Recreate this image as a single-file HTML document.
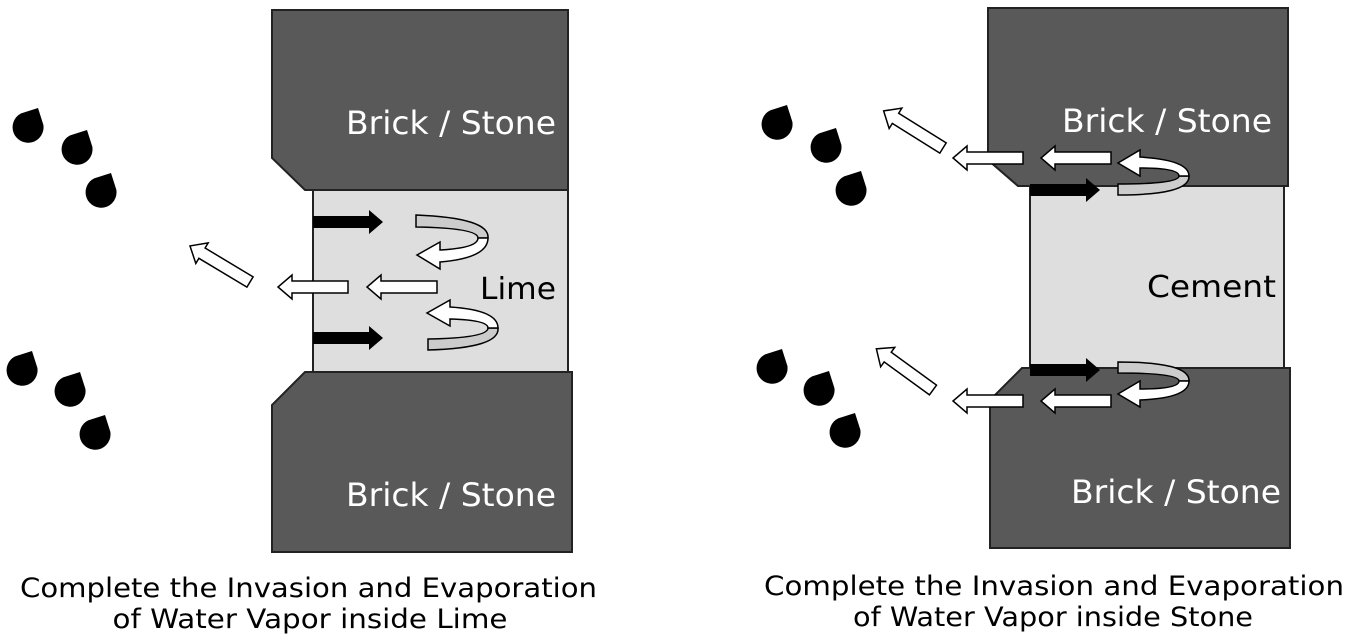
<!DOCTYPE html>
<html><head><meta charset="utf-8"><style>
html,body{margin:0;padding:0;background:#fff}
svg{display:block}
text{font-family:"DejaVu Sans","Liberation Sans",sans-serif}
</style></head><body>
<svg width="1350" height="642" viewBox="0 0 1350 642" xmlns="http://www.w3.org/2000/svg">
<defs>
<path id="drop" d="M0,0 L12,13 A15.5,15.5 0 1 1 -13,12 Z" fill="#000"/>
<path id="ar" d="M0,-6H56V-12L70,0L56,12V6H0Z"/>
</defs>
<!-- LEFT -->
<polygon points="272,10 568,10 568,190 305,190 272,158" fill="#595959" stroke="#222" stroke-width="2"/>
<rect x="313" y="190" width="255" height="182" fill="#dedede" stroke="#222" stroke-width="2"/>
<polygon points="305,372 572,372 572,552 272,552 272,405" fill="#595959" stroke="#222" stroke-width="2"/>
<text x="346" y="134" font-size="32" fill="#fff" textLength="210" lengthAdjust="spacingAndGlyphs">Brick / Stone</text>
<text x="346" y="506" font-size="32" fill="#fff" textLength="210" lengthAdjust="spacingAndGlyphs">Brick / Stone</text>
<text x="480" y="299" font-size="30" fill="#000" textLength="76" lengthAdjust="spacingAndGlyphs">Lime</text>
<use href="#ar" transform="translate(313,222)" fill="#000"/>
<use href="#ar" transform="translate(313,338)" fill="#000"/>
<use href="#ar" transform="translate(348,287) rotate(180)" fill="#fff" stroke="#000" stroke-width="1.5"/>
<use href="#ar" transform="translate(437,287) rotate(180)" fill="#fff" stroke="#000" stroke-width="1.5"/>
<use href="#ar" transform="translate(250,282) rotate(211)" fill="#fff" stroke="#000" stroke-width="1.5"/>
<path d="M416,215 Q490,218 488,238 L478,238 Q478,228 416,227 Z" fill="#ccc" stroke="#000" stroke-width="1.5"/>
<path d="M488,238 Q488,258 440,262 L440,269 L417,255 L440,242 L440,250 Q478,248 478,238 Z" fill="#fff" stroke="#000" stroke-width="1.5"/>
<path d="M428,350 Q500,348 498,328 L488,328 Q488,338 428,339 Z" fill="#ccc" stroke="#000" stroke-width="1.5"/>
<path d="M498,328 Q498,310 450,307 L450,300 L427,313 L450,326 L450,319 Q488,320 488,328 Z" fill="#fff" stroke="#000" stroke-width="1.5"/>
<use href="#drop" transform="translate(38,108) rotate(25)"/>
<use href="#drop" transform="translate(87,130) rotate(25)"/>
<use href="#drop" transform="translate(111,173) rotate(25)"/>
<use href="#drop" transform="translate(32,351) rotate(25)"/>
<use href="#drop" transform="translate(80,372) rotate(25)"/>
<use href="#drop" transform="translate(105,415) rotate(25)"/>
<text x="20" y="597" font-size="27" textLength="577" lengthAdjust="spacingAndGlyphs">Complete the Invasion and Evaporation</text>
<text x="310" y="628" font-size="27" text-anchor="middle" textLength="395" lengthAdjust="spacingAndGlyphs">of Water Vapor inside Lime</text>
<!-- RIGHT -->
<rect x="1030" y="186" width="254" height="182" fill="#dedede" stroke="#222" stroke-width="2"/>
<polygon points="988,8 1288,8 1288,186 1018,186 988,160" fill="#595959" stroke="#222" stroke-width="2"/>
<polygon points="1022,368 1290,368 1290,548 990,548 990,400" fill="#595959" stroke="#222" stroke-width="2"/>
<text x="1062" y="132" font-size="32" fill="#fff" textLength="210" lengthAdjust="spacingAndGlyphs">Brick / Stone</text>
<text x="1071" y="503" font-size="32" fill="#fff" textLength="210" lengthAdjust="spacingAndGlyphs">Brick / Stone</text>
<text x="1147" y="297" font-size="30" fill="#000" textLength="129" lengthAdjust="spacingAndGlyphs">Cement</text>
<use href="#ar" transform="translate(1030,190)" fill="#000"/>
<use href="#ar" transform="translate(1030,370)" fill="#000"/>
<use href="#ar" transform="translate(1023,158) rotate(180)" fill="#fff" stroke="#000" stroke-width="1.5"/>
<use href="#ar" transform="translate(1111,158) rotate(180)" fill="#fff" stroke="#000" stroke-width="1.5"/>
<use href="#ar" transform="translate(1023,401) rotate(180)" fill="#fff" stroke="#000" stroke-width="1.5"/>
<use href="#ar" transform="translate(1111,401) rotate(180)" fill="#fff" stroke="#000" stroke-width="1.5"/>
<use href="#ar" transform="translate(943,148) rotate(212)" fill="#fff" stroke="#000" stroke-width="1.5"/>
<use href="#ar" transform="translate(933,390) rotate(216)" fill="#fff" stroke="#000" stroke-width="1.5"/>
<path d="M1118,195 Q1190,195 1189,176 L1179,176 Q1179,184 1118,184 Z" fill="#ccc" stroke="#000" stroke-width="1.5"/>
<path d="M1189,176 Q1189,160 1140,157 L1140,150 L1118,163 L1140,176 L1140,168 Q1179,168 1179,176 Z" fill="#fff" stroke="#000" stroke-width="1.5"/>
<path d="M1118,362 Q1190,362 1189,381 L1179,381 Q1179,373 1118,373 Z" fill="#ccc" stroke="#000" stroke-width="1.5"/>
<path d="M1189,381 Q1189,398 1140,400 L1140,407 L1118,394 L1140,381 L1140,389 Q1179,389 1179,381 Z" fill="#fff" stroke="#000" stroke-width="1.5"/>
<use href="#drop" transform="translate(787,105) rotate(25)"/>
<use href="#drop" transform="translate(836,128) rotate(25)"/>
<use href="#drop" transform="translate(861,171) rotate(25)"/>
<use href="#drop" transform="translate(782,349) rotate(25)"/>
<use href="#drop" transform="translate(829,371) rotate(25)"/>
<use href="#drop" transform="translate(855,413) rotate(25)"/>
<text x="764" y="595" font-size="27" textLength="580" lengthAdjust="spacingAndGlyphs">Complete the Invasion and Evaporation</text>
<text x="1053" y="626" font-size="27" text-anchor="middle" textLength="400" lengthAdjust="spacingAndGlyphs">of Water Vapor inside Stone</text>
</svg>
</body></html>
